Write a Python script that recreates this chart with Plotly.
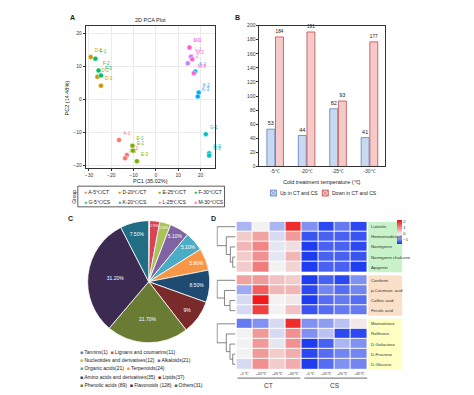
import plotly.graph_objects as go

W, H = 474, 395
def px(x): return x / W
def py(y): return 1 - y / H

FONT = "Liberation Sans"

# ---------------- Panel A data (PCA) ----------------
groups = ["A-5℃/CT", "D-20℃/CT", "E-25℃/CT", "F-30℃/CT",
          "G-5℃/CS", "K-20℃/CS", "L-25℃/CS", "M-30℃/CS"]
codes = ["A", "D", "E", "F", "G", "K", "L", "M"]
group_colors = ["#F8766D", "#CD9600", "#7CAE00", "#00BE67",
                "#00BFC4", "#00A9FF", "#C77CFF", "#FF61CC"]
pc1 = [[-16.5, -13.0, -13.8], [-29.2, -26.2, -24.6], [-10.5, -10.3, -8.5], [-27.1, -25.7, -24.6],
       [22.4, 23.9, 23.9], [17.6, 19.2, 18.8], [15.7, 14.3, 15.0], [15.1, 16.3, 17.0]]
pc2 = [[-12.3, -16.8, -17.8], [12.9, 6.9, 4.2], [-14.0, -15.5, -18.7], [12.4, 8.8, 7.3],
       [-10.5, -16.3, -17.0], [8.5, 2.1, 0.9], [13.0, 11.0, 15.8], [15.8, 12.2, 8.0]]

# ---------------- Panel B data ----------------
temps = ["-5℃", "-20℃", "-25℃", "-30℃"]
up_counts = [53, 44, 82, 41]
down_counts = [184, 191, 93, 177]
bar_series = ["Up in CT and CS", "Down in CT and CS"]

# ---------------- Panel C data ----------------
classes = ["Tannins", "Lignans and coumarins", "Nucleotides and derivatives", "Alkaloids",
           "Organic acids", "Terpenoids", "Amino acids and derivatives", "Lipids",
           "Phenolic acids", "Flavonoids", "Others"]
class_counts = [1, 11, 12, 21, 21, 24, 35, 37, 89, 128, 31]
pct_labels = ["0.20%", "2.70%", "2.90%", "5.10%", "5.10%", "5.80%", "8.50%", "9%",
              "21.70%", "31.20%", "7.50%"]
class_colors = ["#4F81BD", "#D94452", "#A9C25D", "#8064A2", "#4BACC6", "#F79646",
                "#1F4A72", "#7A2A2A", "#6A7B34", "#3C2A50", "#216D84"]

# ---------------- Panel D data ----------------
cond_labels = ["-5℃", "-20℃", "-25℃", "-30℃", "-5℃", "-20℃", "-25℃", "-30℃"]
block1_names = ["Luteolin", "Homoeriodictyol", "Naringenin", "Naringenin chalcone", "Apigenin"]
block1_z = [[-0.5, 0.0, -0.5, 2.0, -0.8, -1.4, -1.0, -1.4],
            [0.4, 0.8, -0.2, 0.9, -1.3, -1.2, -1.2, -1.3],
            [0.6, 1.1, -0.1, 0.2, -1.5, -1.2, -1.2, -1.4],
            [0.4, 1.0, -0.1, 0.6, -1.5, -1.2, -1.2, -1.3],
            [0.4, 1.2, 0.0, 0.3, -1.5, -1.2, -1.2, -1.5]]
block2_names = ["Coniferin", "p-Coumaric acid", "Caffeic acid", "Ferulic acid"]
block2_z = [[0.8, 0.9, 0.5, 0.4, -1.5, -1.2, -1.4, -0.8],
            [-0.6, 1.5, 0.6, 0.6, -1.4, -0.9, -1.1, -0.9],
            [-0.2, 2.2, 0.0, 0.1, -1.5, -1.1, -1.0, -1.1],
            [-0.2, 1.8, 0.0, 0.5, -1.3, -1.1, -1.0, -1.0]]
block3_names = ["Mannotriose", "Raffinose", "D-Galactose", "D-Fructose", "D-Glucose"]
block3_z = [[-1.0, -0.8, -0.2, 2.0, -0.8, -0.7, -0.4, 0.1],
            [0.0, 0.9, -0.2, 1.0, -0.8, -0.4, -1.4, -1.4],
            [0.0, 0.9, -0.1, 1.0, -1.5, -1.2, -0.5, -0.8],
            [0.0, 0.9, 0.4, 0.7, -1.4, -1.1, -0.9, -0.9],
            [-0.2, 1.0, 0.4, 0.7, -1.5, -1.1, -0.8, -0.9]]
# dendrogram merges: (node_a, node_b, height) ; leaves are 0..n-1
block1_merges = [(3, 4, 0.15), (2, 5, 0.28), (1, 6, 0.5), (0, 7, 1.0)]
block2_merges = [(2, 3, 0.3), (1, 4, 0.6), (0, 5, 1.0)]
block3_merges = [(3, 4, 0.15), (2, 5, 0.3), (1, 6, 0.5), (0, 7, 1.0)]

fig = go.Figure()

# ---- Panel A traces
for g, c, col, xs, ys in zip(groups, codes, group_colors, pc1, pc2):
    fig.add_trace(go.Scatter(
        x=xs, y=ys, mode="markers+text", xaxis="x", yaxis="y",
        marker=dict(size=5, color=col, line=dict(width=0.5, color="white")),
        text=[f"{c}-{i+1}" for i in range(len(xs))], textposition="top right",
        textfont=dict(size=4.5, color=col), showlegend=False, name=g, cliponaxis=False))

# ---- Panel B traces
bar_fill = ["#C9DAF0", "#F7CACA"]
bar_line = ["#5A7FC4", "#C24A4A"]
for name, vals, fc, lc in zip(bar_series, [up_counts, down_counts], bar_fill, bar_line):
    fig.add_trace(go.Bar(x=temps, y=vals, name=name, xaxis="x2", yaxis="y2",
                         marker=dict(color=fc, line=dict(color=lc, width=0.8)),
                         text=vals, textposition="outside", cliponaxis=False,
                         textfont=dict(size=5.5, color="#222"), showlegend=False))

# ---- Panel C trace
fig.add_trace(go.Pie(values=class_counts, labels=classes, text=pct_labels, textinfo="text",
                     textposition="inside", insidetextorientation="horizontal",
                     sort=False, direction="clockwise", rotation=0,
                     marker=dict(colors=class_colors, line=dict(color="white", width=0.8)),
                     insidetextfont=dict(size=5, color="white", family=FONT),
                     domain=dict(x=[px(86), px(210)], y=[py(345), py(221)]),
                     showlegend=False))

# ---- Panel D traces
GAP = 0.3
blocks = [(block1_names, block1_z, block1_merges),
          (block2_names, block2_z, block2_merges),
          (block3_names, block3_z, block3_merges)]
ypos_all = []
offset = 0.0
for names, z, merges in blocks:
    ys = [offset + i for i in range(len(names))]
    ypos_all.append(ys)
    offset += len(names) + GAP
    fig.add_trace(go.Heatmap(z=z, x=list(range(8)), y=ys, coloraxis="coloraxis",
                             xgap=1, ygap=1, xaxis="x3", yaxis="y3", showscale=False))
    # dendrogram
    node_y = list(ys)
    node_h = [0.0] * len(ys)
    lx, ly = [], []
    for a, b, h in merges:
        for ch in (a, b):
            lx += [node_h[ch], h, None]
            ly += [node_y[ch], node_y[ch], None]
        lx += [h, h, None]
        ly += [node_y[a], node_y[b], None]
        node_y.append((node_y[a] + node_y[b]) / 2)
        node_h.append(h)
    fig.add_trace(go.Scatter(x=lx, y=ly, mode="lines", xaxis="x4", yaxis="y4",
                             line=dict(color="#666", width=0.8), showlegend=False,
                             hoverinfo="skip"))

y_top = -0.5
y_bot = offset - GAP - 0.5

annotations = []
shapes = []

def ann(x, y, text, size=5.5, xanchor="center", yanchor="middle", color="#222", bold=False,
        textangle=0, xref="paper", yref="paper", italic=False):
    t = f"<b>{text}</b>" if bold else text
    if italic:
        t = f"<i>{t}</i>"
    annotations.append(dict(x=x, y=y, xref=xref, yref=yref, text=t, showarrow=False,
                            xanchor=xanchor, yanchor=yanchor, textangle=textangle,
                            borderpad=0, font=dict(size=size, color=color, family=FONT)))

# panel letters
ann(px(72), py(15), "A", 7, bold=True)
ann(px(237), py(15), "B", 7, bold=True)
ann(px(70), py(219), "C", 7, bold=True)
ann(px(213), py(219), "D", 7, bold=True)

# Panel A text
ann(px(150), py(17), "2D PCA Plot", 5.5)
ann(px(150), py(181), "PC1 (35.02%)", 5.5)
ann(px(66), py(96), "PC2 (14.48%)", 5.5, textangle=-90)
ann(px(73), py(197), "Group", 5, textangle=-90)
item_x = [82, 116, 156, 192]
for i, (g, col) in enumerate(zip(groups, group_colors)):
    row, k = divmod(i, 4)
    ann(px(item_x[k]), py(192 + row * 10),
        f"<span style='color:{col}'>●</span> {g}", 5, xanchor="left")
shapes.append(dict(type="rect", xref="paper", yref="paper", x0=px(77), x1=px(224),
                   y0=py(207), y1=py(186), line=dict(color="#333", width=0.8)))

# Panel B text + legend
ann(px(322), py(182), "Cold treatment temperature (℃)", 5.5)
leg_sq_x = [270, 322]
for name, fc, lc, sx in zip(bar_series, bar_fill, bar_line, leg_sq_x):
    x0, x1, y0, y1 = px(sx), px(sx + 6), py(196), py(190)
    shapes.append(dict(type="rect", xref="paper", yref="paper", x0=x0, x1=x1, y0=y0, y1=y1,
                       fillcolor=fc, line=dict(color=lc, width=0.8)))
    shapes.append(dict(type="line", xref="paper", yref="paper", x0=x0, x1=x1, y0=y0, y1=y1,
                       line=dict(color=lc, width=0.6)))
    shapes.append(dict(type="line", xref="paper", yref="paper", x0=x0, x1=x1, y0=y1, y1=y0,
                       line=dict(color=lc, width=0.6)))
    ann(px(sx + 8.5), py(193), name, 5, xanchor="left")

# Panel C legend
legend_rows = [[0, 1], [2, 3], [4, 5], [6, 7], [8, 9, 10]]
for r, idxs in enumerate(legend_rows):
    parts = []
    for i in idxs:
        nm = f"{classes[i]} ({class_counts[i]})" if r == 4 and i != 10 else f"{classes[i]}({class_counts[i]})"
        parts.append(f"<span style='color:{class_colors[i]}'>■</span> {nm}")
    ann(px(78), py(354 + r * 8.5), "  ".join(parts), 5, xanchor="left")

# Panel D text
row_bg = ["#C8F2C8", "#FBE0C8", "#FFFFC2"]
names_all = [b[0] for b in blocks]
for names, ys, bg in zip(names_all, ypos_all, row_bg):
    shapes.append(dict(type="rect", xref="paper", yref="y3", x0=px(368), x1=px(402),
                       y0=ys[0] - 0.5, y1=ys[-1] + 0.5, fillcolor=bg, line=dict(width=0),
                       layer="below"))
    for n, yv in zip(names, ys):
        ann(px(370), yv, n, 4.3, xanchor="left", yref="y3", color="#333")
for i, lab in enumerate(cond_labels):
    ann(i, py(376), lab, 4.3, xref="x3", color="#555", italic=True)
shapes.append(dict(type="line", xref="paper", yref="paper", x0=px(237), x1=px(300),
                   y0=py(381), y1=py(381), line=dict(color="#888", width=1.2)))
shapes.append(dict(type="line", xref="paper", yref="paper", x0=px(304), x1=px(367),
                   y0=py(381), y1=py(381), line=dict(color="#888", width=1.2)))
ann(px(268), py(388), "CT", 6.5, color="#333")
ann(px(335), py(388), "CS", 6.5, color="#333")

axis_common = dict(showline=True, mirror=True, linecolor="#333", linewidth=1,
                   ticks="outside", ticklen=2, tickcolor="#333",
                   tickfont=dict(size=5, family=FONT, color="#333"), zeroline=False)

fig.update_layout(
    width=W, height=H, margin=dict(l=0, r=0, t=0, b=0),
    paper_bgcolor="white", plot_bgcolor="white",
    font=dict(family=FONT, size=5, color="#222"),
    xaxis=dict(domain=[px(85), px(214)], range=[-31.4, 26.3], dtick=10, anchor="y",
               showgrid=True, gridcolor="#EBEBEB", gridwidth=0.6, **axis_common),
    yaxis=dict(domain=[py(168), py(23)], range=[-20.9, 22.4], dtick=10, anchor="x",
               showgrid=True, gridcolor="#EBEBEB", gridwidth=0.6, **axis_common),
    xaxis2=dict(domain=[px(259), px(385)], anchor="y2", type="category", showgrid=False,
                **{**axis_common, "ticks": ""}),
    yaxis2=dict(domain=[py(166), py(23)], anchor="x2", range=[0, 200], dtick=20,
                showgrid=False, **axis_common),
    xaxis3=dict(domain=[px(236), px(367)], anchor="y3", range=[-0.5, 7.5], visible=False),
    yaxis3=dict(domain=[py(372), py(222)], anchor="x3", range=[y_bot, y_top], visible=False),
    xaxis4=dict(domain=[px(216), px(235)], anchor="y4", range=[1.03, 0], visible=False),
    yaxis4=dict(domain=[py(372), py(222)], anchor="x4", range=[y_bot, y_top], visible=False),
    barmode="group", bargap=0.45, bargroupgap=0.08,
    coloraxis=dict(cmin=-1.6, cmax=2.3,
                   colorscale=[[0, "#1030F0"], [0.41, "#F2F2F2"], [1, "#F01010"]],
                   colorbar=dict(x=px(397), xanchor="left", y=py(220), yanchor="top",
                                 lenmode="pixels", len=24, thickness=5,
                                 tickvals=[2, 1, 0, -1], ticklen=1, outlinewidth=0,
                                 tickfont=dict(size=4, family=FONT), xpad=0, ypad=0)),
    showlegend=False,
    annotations=annotations, shapes=shapes,
)

fig.write_html("out.html", config={"displayModeBar": False},
               post_script="document.body.style.margin='0';")
